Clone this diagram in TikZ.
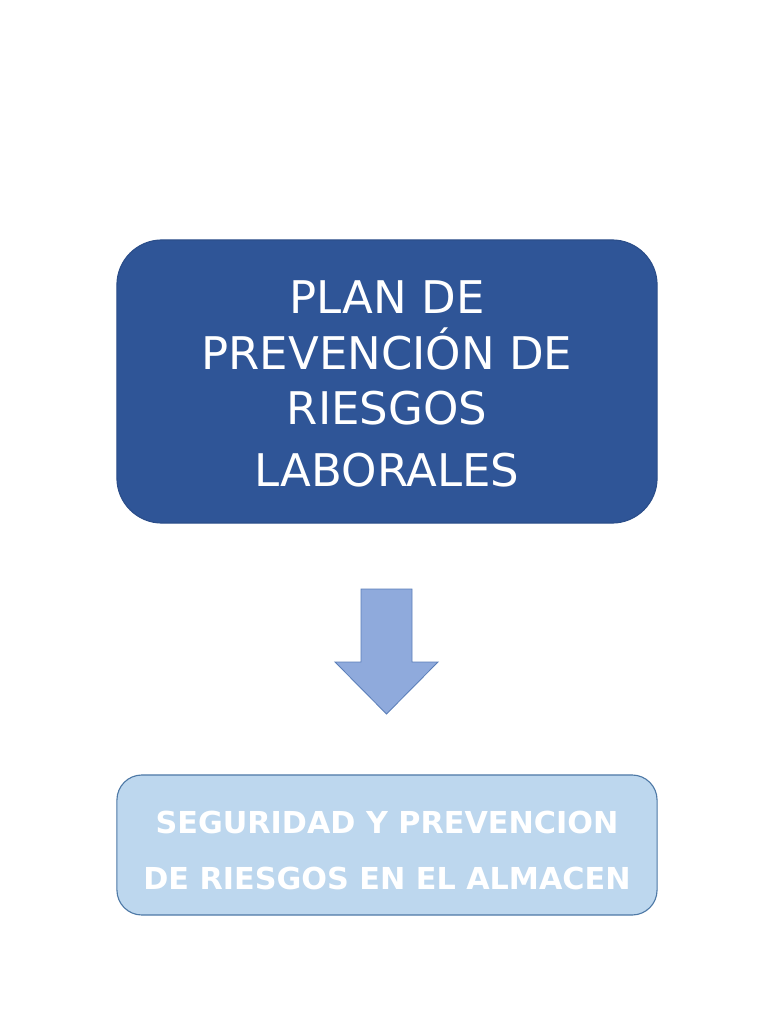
\documentclass[tikz,border=0pt]{standalone}
\usepackage{fontspec}
\setmainfont{DejaVu Sans}
\definecolor{planblue}{HTML}{2F5597}
\definecolor{planedge}{HTML}{2B4E8A}
\definecolor{arrowblue}{HTML}{8FAADC}
\definecolor{arrowedge}{HTML}{5A7EB8}
\definecolor{lightblue}{HTML}{BDD7EE}
\definecolor{lightedge}{HTML}{4E79A6}
\tikzset{
  titlebox/.style={draw=planedge, fill=planblue, line width=0.8pt, rounded corners=1.125cm,
    minimum width=13.5cm, minimum height=7.075cm},
  subbox/.style={draw=lightedge, fill=lightblue, line width=0.8pt, rounded corners=0.625cm,
    minimum width=13.5cm, minimum height=3.5cm},
  titletext/.style={text=white, align=center, font=\fontsize{32}{39.6}\selectfont},
  subtext/.style={text=white, align=center, font=\bfseries\fontsize{21.5}{39.6}\selectfont},
}
\begin{document}
\begin{tikzpicture}[x=0.025cm, y=-0.025cm]
 \useasboundingbox (0,0) rectangle (768,1024);

 \node [titlebox] (plan) at (387,381.5) {};
 \node [titletext] (plantext) at (plan.center) [yshift=-1.5pt]
   {PLAN DE\\PREVENCIÓN DE\\RIESGOS\\[4pt]LABORALES};

 %% block arrow
 \draw [draw=arrowedge, fill=arrowblue, line width=0.6pt]
   (361,589) -- (412,589) -- (412,662) -- (438,662) -- (386.5,714)
   -- (335,662) -- (361,662) -- cycle;

 \node [subbox] (seguridad) at (387,845) {};
 \node [subtext] (segtext) at (seguridad.center) [yshift=-4pt]
   {SEGURIDAD Y PREVENCION\\DE RIESGOS EN EL ALMACEN};
\end{tikzpicture}
\end{document}
